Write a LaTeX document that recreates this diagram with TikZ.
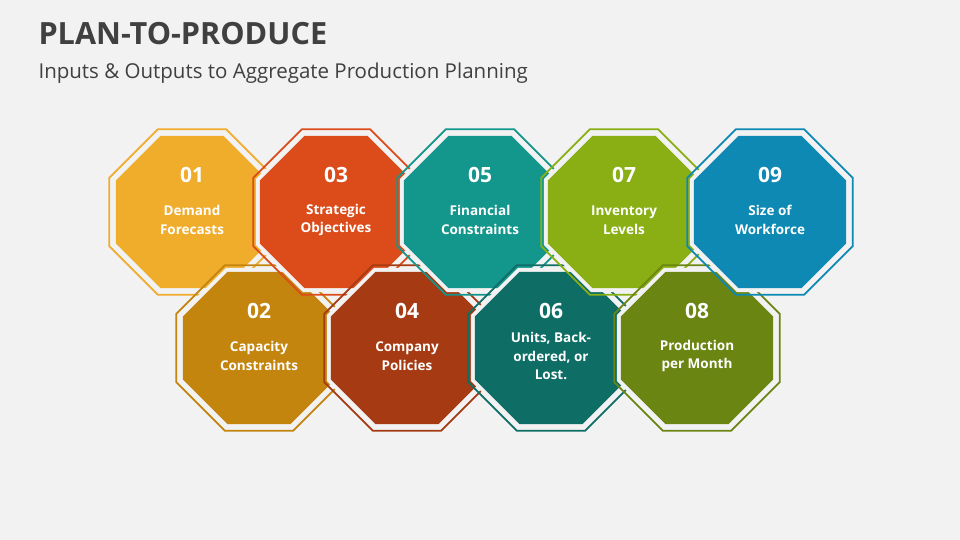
\documentclass[tikz,border=0pt]{standalone}
\usepackage{fontspec}
\setmainfont{Open Sans}
\begin{document}
\begin{tikzpicture}[x=1pt,y=-1pt,
  ttl/.style={anchor=west,text=black!75,font=\fontsize{30.6}{32}\selectfont\bfseries},
  sub/.style={anchor=west,text=black!75,font=\fontsize{20.5}{22}\selectfont},
  num/.style={text=white,font=\fontsize{21}{22}\selectfont\bfseries},
  lbl/.style={text=white,align=center,font=\fontsize{13.5}{18.5}\selectfont\bfseries}]
\definecolor{bg}{HTML}{F2F2F2}
\fill[bg] (0,0) rectangle (960,540);
\useasboundingbox (0,0) rectangle (960,540);
\node[ttl] (t) at (35,34) {PLAN-TO-PRODUCE};
\node[sub] (s) at (35,73) {Inputs \& Outputs to Aggregate Production Planning};
\newcommand{\octp}[1]{(22.5:#1)--(67.5:#1)--(112.5:#1)--(157.5:#1)--(202.5:#1)--(247.5:#1)--(292.5:#1)--(337.5:#1)--cycle}
\newcommand{\octo}[5]{%
  \begin{scope}[shift={(#1,#2)}]
  \draw[bg,line width=8] \octp{82.3};
  \draw[#3,line width=1.8] \octp{89.5};
  \fill[#3] \octp{82.3};
  \end{scope}
  \node[num] (n#4) at (#1,#2-37) {#4};
  \node[lbl] (l#4) at (#1,#2+8) {#5};}
\definecolor{c1}{HTML}{F0AC2B}\definecolor{c3}{HTML}{DC4C1B}
\definecolor{c5}{HTML}{13968C}\definecolor{c7}{HTML}{8AAF15}
\definecolor{c9}{HTML}{0E89B3}\definecolor{c2}{HTML}{C3850E}
\definecolor{c4}{HTML}{A53A13}\definecolor{c6}{HTML}{0E6E66}
\definecolor{c8}{HTML}{6B8513}
\octo{192}{212}{c1}{01}{Demand\\Forecasts}
\octo{259}{348}{c2}{02}{Capacity\\Constraints}
\octo{336}{212}{c3}{03}{Strategic\\Objectives}
\octo{407}{348}{c4}{04}{Company\\Policies}
\octo{480}{212}{c5}{05}{Financial\\Constraints}
\octo{551}{348}{c6}{06}{Units, Back-\\ordered, or\\Lost.}
\octo{624}{212}{c7}{07}{Inventory\\Levels}
\octo{697}{348}{c8}{08}{Production\\per Month}
\octo{770}{212}{c9}{09}{Size of\\Workforce}
\end{tikzpicture}
\end{document}
